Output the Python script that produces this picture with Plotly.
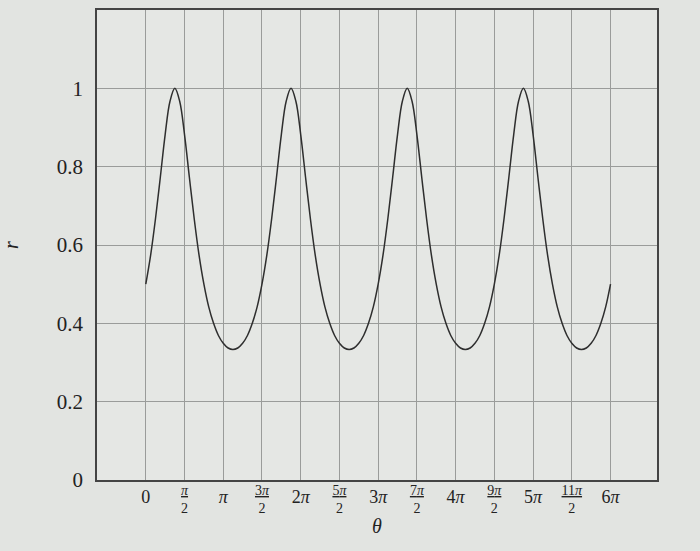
import plotly.graph_objects as go

# theta in units of pi
theta_pi = [
    0.0, 0.0625, 0.125, 0.1875, 0.25, 0.3125, 0.375, 0.4375,
    0.5, 0.5625, 0.625, 0.6875, 0.75, 0.8125, 0.875, 0.9375,
    1.0, 1.0625, 1.125, 1.1875, 1.25, 1.3125, 1.375, 1.4375,
    1.5, 1.5625, 1.625, 1.6875, 1.75, 1.8125, 1.875, 1.9375,
    2.0, 2.0625, 2.125, 2.1875, 2.25, 2.3125, 2.375, 2.4375,
    2.5, 2.5625, 2.625, 2.6875, 2.75, 2.8125, 2.875, 2.9375,
    3.0, 3.0625, 3.125, 3.1875, 3.25, 3.3125, 3.375, 3.4375,
    3.5, 3.5625, 3.625, 3.6875, 3.75, 3.8125, 3.875, 3.9375,
    4.0, 4.0625, 4.125, 4.1875, 4.25, 4.3125, 4.375, 4.4375,
    4.5, 4.5625, 4.625, 4.6875, 4.75, 4.8125, 4.875, 4.9375,
    5.0, 5.0625, 5.125, 5.1875, 5.25, 5.3125, 5.375, 5.4375,
    5.5, 5.5625, 5.625, 5.6875, 5.75, 5.8125, 5.875, 5.9375,
    6.0]
r_vals = [
    0.5, 0.574, 0.667, 0.773, 0.882, 0.967, 1.0, 0.967,
    0.882, 0.773, 0.667, 0.574, 0.5, 0.442, 0.4, 0.369,
    0.349, 0.337, 0.333, 0.337, 0.349, 0.369, 0.4, 0.442,
    0.5, 0.574, 0.667, 0.773, 0.882, 0.967, 1.0, 0.967,
    0.882, 0.773, 0.667, 0.574, 0.5, 0.442, 0.4, 0.369,
    0.349, 0.337, 0.333, 0.337, 0.349, 0.369, 0.4, 0.442,
    0.5, 0.574, 0.667, 0.773, 0.882, 0.967, 1.0, 0.967,
    0.882, 0.773, 0.667, 0.574, 0.5, 0.442, 0.4, 0.369,
    0.349, 0.337, 0.333, 0.337, 0.349, 0.369, 0.4, 0.442,
    0.5, 0.574, 0.667, 0.773, 0.882, 0.967, 1.0, 0.967,
    0.882, 0.773, 0.667, 0.574, 0.5, 0.442, 0.4, 0.369,
    0.349, 0.337, 0.333, 0.337, 0.349, 0.369, 0.4, 0.442,
    0.5]

int_ticks = [0, 1, 2, 3, 4, 5, 6]
int_labels = ["0", "<i>π</i>", "2<i>π</i>", "3<i>π</i>", "4<i>π</i>", "5<i>π</i>", "6<i>π</i>"]
frac_ticks = [0.5, 1.5, 2.5, 3.5, 4.5, 5.5]
frac_labels = ["<u><i>π</i></u><br>2", "<u>3<i>π</i></u><br>2", "<u>5<i>π</i></u><br>2",
               "<u>7<i>π</i></u><br>2", "<u>9<i>π</i></u><br>2", "<u>11<i>π</i></u><br>2"]
y_ticks = [0, 0.2, 0.4, 0.6, 0.8, 1]
y_labels = ["0", "0.2", "0.4", "0.6", "0.8", "1"]

FONT = "Liberation Serif"
XR = [-0.63, 6.6]
BG = "#e2e4e1"

fig = go.Figure()
fig.add_trace(go.Scatter(x=theta_pi, y=r_vals, mode="lines",
                         line=dict(color="#2e2e2e", width=1.5, shape="spline"),
                         hoverinfo="skip", showlegend=False))
fig.add_trace(go.Scatter(x=theta_pi, y=r_vals, mode="lines", xaxis="x2",
                         line=dict(color="rgba(0,0,0,0)", width=0),
                         hoverinfo="skip", showlegend=False))

fig.update_layout(
    width=700, height=551,
    margin=dict(l=97, r=43, t=8, b=71),
    paper_bgcolor=BG,
    plot_bgcolor="#e5e7e4",
    font=dict(family=FONT, color="#222"),
    xaxis=dict(range=XR, tickmode="array", tickvals=int_ticks, ticktext=int_labels,
               tickfont=dict(size=18, family=FONT), ticks="", ticklabelstandoff=0,
               showgrid=True, gridcolor="#9a9c9a", gridwidth=1, zeroline=False,
               showline=True, linecolor="#444", linewidth=1.5, mirror=True,
               title=dict(text="<i>θ</i>", font=dict(size=20, family=FONT), standoff=13)),
    xaxis2=dict(range=XR, overlaying="x", side="bottom", anchor="y",
                tickmode="array", tickvals=frac_ticks, ticktext=frac_labels,
                tickfont=dict(size=14, family=FONT), ticks="", ticklabelstandoff=0,
                showgrid=True, gridcolor="#9a9c9a", gridwidth=1, zeroline=False,
                showline=False),
    yaxis=dict(range=[0, 1.2], tickmode="array", tickvals=y_ticks, ticktext=y_labels,
               tickfont=dict(size=21, family=FONT), ticks="", ticklabelstandoff=8,
               showgrid=True, gridcolor="#9a9c9a", gridwidth=1, zeroline=False,
               showline=True, linecolor="#444", linewidth=1.5, mirror=True,
               title=dict(text="<i>r</i>", font=dict(size=20, family=FONT), standoff=33)),
)

fig.write_html("out.html", config={"displayModeBar": False},
               post_script="document.body.style.margin='0';document.body.style.background='%s';" % BG)
